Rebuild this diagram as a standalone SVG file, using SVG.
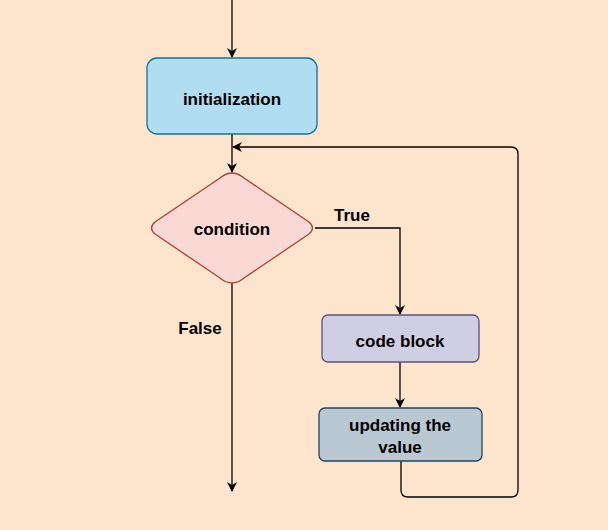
<svg xmlns="http://www.w3.org/2000/svg" width="608" height="530" viewBox="0 0 608 530">
<defs>
<marker id="a" markerWidth="10" markerHeight="10" refX="9" refY="5" orient="auto" markerUnits="userSpaceOnUse"><path d="M0,0 L10,5 L0,10 L3,5 Z" fill="#000"/></marker>
<style>
text{font-family:"Liberation Sans",Arial,sans-serif;font-weight:bold;font-size:17px;fill:#000;text-anchor:middle}
.c{fill:none;stroke:#000;stroke-width:1.3;marker-end:url(#a)}
</style>
</defs>
<rect width="608" height="530" fill="#FDE4CC"/>
<g id="connectors">
<path class="c" d="M232,0 V57"/>
<path class="c" d="M232,134 V172"/>
<path class="c" d="M401,461 V490 Q401,497 408,497 H511 Q518,497 518,490 V154 Q518,147 511,147 H233"/>
<path class="c" d="M315,228 H400 V314"/>
<path class="c" d="M400,362 V407"/>
<path class="c" d="M232,283 V491"/>
<text x="352" y="221">True</text>
<text x="200" y="334">False</text>
</g>
<g id="init"><rect x="147" y="58" width="170" height="76" rx="10" fill="#B1DDF0" stroke="#10739E" stroke-width="1.3"/><text x="232" y="105">initialization</text></g>
<g id="condition"><path d="M232,173 Q238,173 244,178 L309,222 Q316,228 309,234 L244,278 Q238,283 232,283 Q226,283 220,278 L155,234 Q148,228 155,222 L220,178 Q226,173 232,173 Z" fill="#FAD9D5" stroke="#AE4132" stroke-width="1.3"/><text x="232" y="235">condition</text></g>
<g id="code"><rect x="322" y="315" width="157" height="47" rx="6" fill="#D0CEE2" stroke="#56517E" stroke-width="1.3"/><text x="400" y="347">code block</text></g>
<g id="update"><rect x="319" y="408" width="163" height="53" rx="6" fill="#BAC8D3" stroke="#23445D" stroke-width="1.3"/><text x="400" y="431">updating the</text><text x="400" y="453">value</text></g>
</svg>
